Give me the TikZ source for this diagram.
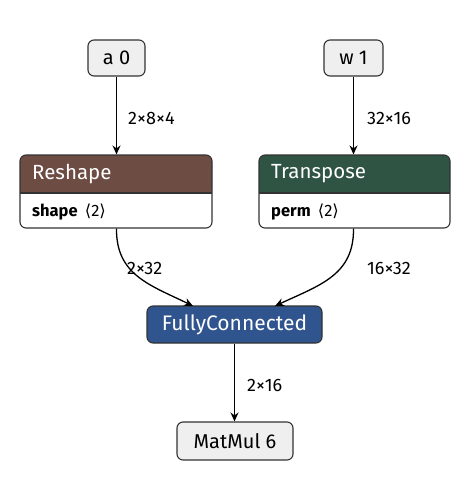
\documentclass[tikz,border=0pt]{standalone}
\usepackage{fontspec}
\setmainfont{Fira Sans}
\newfontfamily\symfont{DejaVu Sans}
\usetikzlibrary{arrows.meta,calc}
\definecolor{boxgray}{HTML}{EFEFEF}
\definecolor{edgegray}{HTML}{333333}
\definecolor{rsbrown}{HTML}{6D4C44}
\definecolor{trgreen}{HTML}{2F5444}
\definecolor{fcblue}{HTML}{30548E}
\tikzset{
  iobox/.style={draw=edgegray, line width=1.1pt, fill=boxgray, rounded corners=6pt, font=\fontsize{20}{22}\selectfont, inner sep=0pt},
  opbox/.style={draw=edgegray, line width=1.1pt, rounded corners=6pt, inner sep=0pt},
  conn/.style={draw=black, line width=1.3pt, -{Stealth[length=9pt,width=8pt]}},
  elabel/.style={font=\fontsize{18}{20}\selectfont, anchor=west, inner sep=0pt},
  hdr/.style={font=\fontsize{20.5}{22}\selectfont, text=white, anchor=west, inner sep=0pt},
  attr/.style={font=\fontsize{16.5}{18}\selectfont, anchor=west, inner sep=0pt}
}
\begin{document}
\begin{tikzpicture}[x=1pt,y=-1pt]
\useasboundingbox (0,0) rectangle (474,503);
% input nodes
\node[iobox, minimum width=57pt, minimum height=36pt] (a0) at (116.5,58) {a 0};
\node[iobox, minimum width=59pt, minimum height=36pt] (w1) at (353.5,58) {w 1};
% Reshape
\begin{scope}
\fill[rsbrown, rounded corners=6pt] (20,193) -- (20,155) -- (212,155) -- (212,193) -- cycle;
\fill[rsbrown] (20,180) rectangle (212,193);
\fill[white, rounded corners=6pt] (20,193) -- (20,228) -- (212,228) -- (212,193) -- cycle;
\fill[white] (20,193) rectangle (212,205);
\draw[edgegray, line width=1.1pt] (20,193) -- (212,193);
\node[opbox, minimum width=192pt, minimum height=73pt] (rs) at (116,191.5) {};
\node[hdr] (rsh) at (32,174) {Reshape};
\node[attr] (rsa) at (32,212) {\textbf{shape} \,{\symfont ⟨}2{\symfont ⟩}};
\end{scope}
% Transpose
\begin{scope}
\fill[trgreen, rounded corners=6pt] (259,193) -- (259,155) -- (450,155) -- (450,193) -- cycle;
\fill[trgreen] (259,180) rectangle (450,193);
\fill[white, rounded corners=6pt] (259,193) -- (259,228) -- (450,228) -- (450,193) -- cycle;
\fill[white] (259,193) rectangle (450,205);
\draw[edgegray, line width=1.1pt] (259,193) -- (450,193);
\node[opbox, minimum width=191pt, minimum height=73pt] (tr) at (354.5,191.5) {};
\node[hdr] (trh) at (271,174) {Transpose};
\node[attr] (tra) at (271,212) {\textbf{perm} \,{\symfont ⟨}2{\symfont ⟩}};
\end{scope}
% FullyConnected
\node[opbox, fill=fcblue, text=white, minimum width=175pt, minimum height=37pt, font=\fontsize{21}{23}\selectfont] (fc) at (234.5,324.5) {FullyConnected};
% MatMul
\node[iobox, minimum width=116pt, minimum height=38pt] (mm) at (235,441) {MatMul 6};
% connectors
\draw[conn] (a0.south) -- (a0.south |- rs.north);
\draw[conn] (w1.south) -- (w1.south |- tr.north);
\coordinate (fcl) at (193,306);
\coordinate (fcr) at (275,306);
\draw[conn] (rs.south -| a0.south) .. controls (116,275) and (150,285) .. (fcl);
\draw[conn] (tr.south -| w1.south) .. controls (354,275) and (320,285) .. (fcr);
\draw[conn] (fc.south) -- (fc.south |- mm.north);
% edge labels
\node[elabel] (l1) at (128,118) {2×8×4};
\node[elabel] (l2) at (367,118) {32×16};
\node[elabel] (l3) at (127,268) {2×32};
\node[elabel] (l4) at (367,268) {16×32};
\node[elabel] (l5) at (247,385) {2×16};
\end{tikzpicture}
\end{document}
